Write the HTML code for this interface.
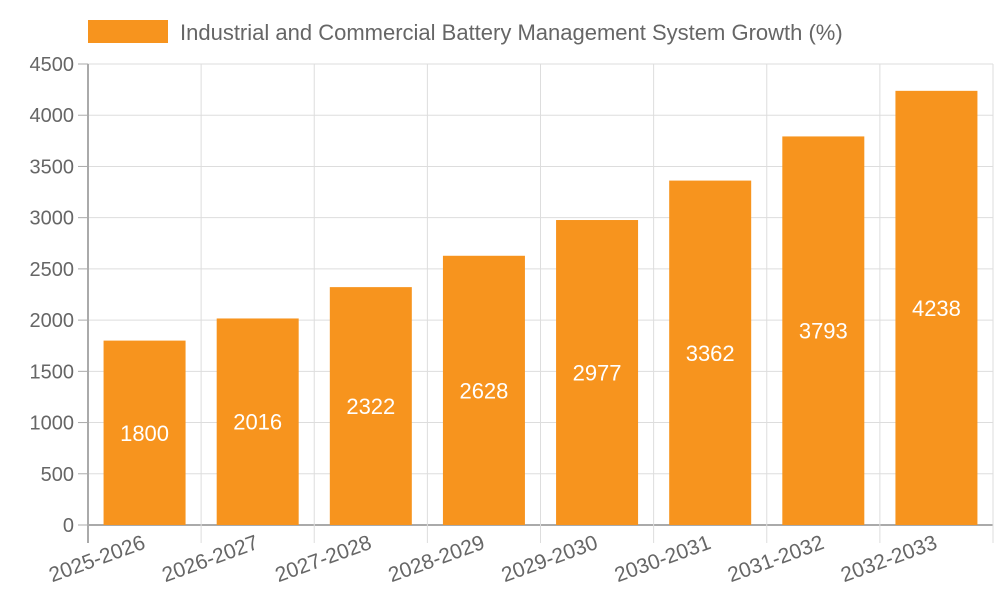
<!DOCTYPE html>
<html><head><meta charset="utf-8"><style>
html,body{margin:0;padding:0;background:#fff}
svg{display:block;font-family:"Liberation Sans",sans-serif}
</style></head><body>
<svg id="chart" width="1000" height="600">
<g id="grid"></g>
<g id="bars"></g>
<g id="axes"></g>
<g>
<rect x="88" y="20" width="80" height="23" fill="#f7941e"/>
<text x="180" y="40" font-size="22" fill="#666">Industrial and Commercial Battery Management System Growth (%)</text>
</g>
</svg>
<script>
const categories=["2025-2026","2026-2027","2027-2028","2028-2029","2029-2030","2030-2031","2031-2032","2032-2033"];
const values=[1800,2016,2322,2628,2977,3362,3793,4238];
const yTicks=[0,500,1000,1500,2000,2500,3000,3500,4000,4500];
const NS="http://www.w3.org/2000/svg";
const L=88,R=993,T=64,B=525,yMax=4500;
const y=v=>B-(v/yMax)*(B-T);
const cw=(R-L)/categories.length;
const x=i=>L+cw*i;
function mk(tag,attrs,parent,txt){const e=document.createElementNS(NS,tag);for(const k in attrs)e.setAttribute(k,attrs[k]);if(txt!==undefined)e.textContent=txt;document.getElementById(parent).appendChild(e);return e;}
yTicks.forEach(t=>{
 const g=mk("line",{x1:L,x2:R,y1:y(t),y2:y(t),stroke:t===0?"#aaa":"#ddd","stroke-width":t===0?2:1},"grid");
 
 
 const tk=mk("line",{x1:L-10,x2:L,y1:y(t),y2:y(t),stroke:"#aaa","stroke-width":1},"axes");
 
 
 const lb=mk("text",{x:L-14,y:y(t)+7,"text-anchor":"end","font-size":20,fill:"#666"},"axes",t);
 
 
});
for(let i=0;i<=categories.length;i++){
 const g=mk("line",{x1:x(i),x2:x(i),y1:T,y2:B+18,stroke:i===0?"#aaa":"#ddd","stroke-width":i===0?2:1},"grid");
 
 
}
categories.forEach((c,i)=>{
 const cx=x(i)+cw/2,bw=82;
 const r=mk("rect",{x:cx-bw/2,y:y(values[i]),width:bw,height:B-y(values[i]),fill:"#f7941e"},"bars");
 
 
 const v=mk("text",{x:cx,y:(y(values[i])+B)/2+8,"text-anchor":"middle","font-size":22,fill:"#fff"},"bars",values[i]);
 
 
 const lb=mk("text",{x:cx+2,y:548,"text-anchor":"end","font-size":21,fill:"#666",transform:`rotate(-20 ${cx+2} 548)`},"axes",c);
 
 
});
</script>
</body></html>
